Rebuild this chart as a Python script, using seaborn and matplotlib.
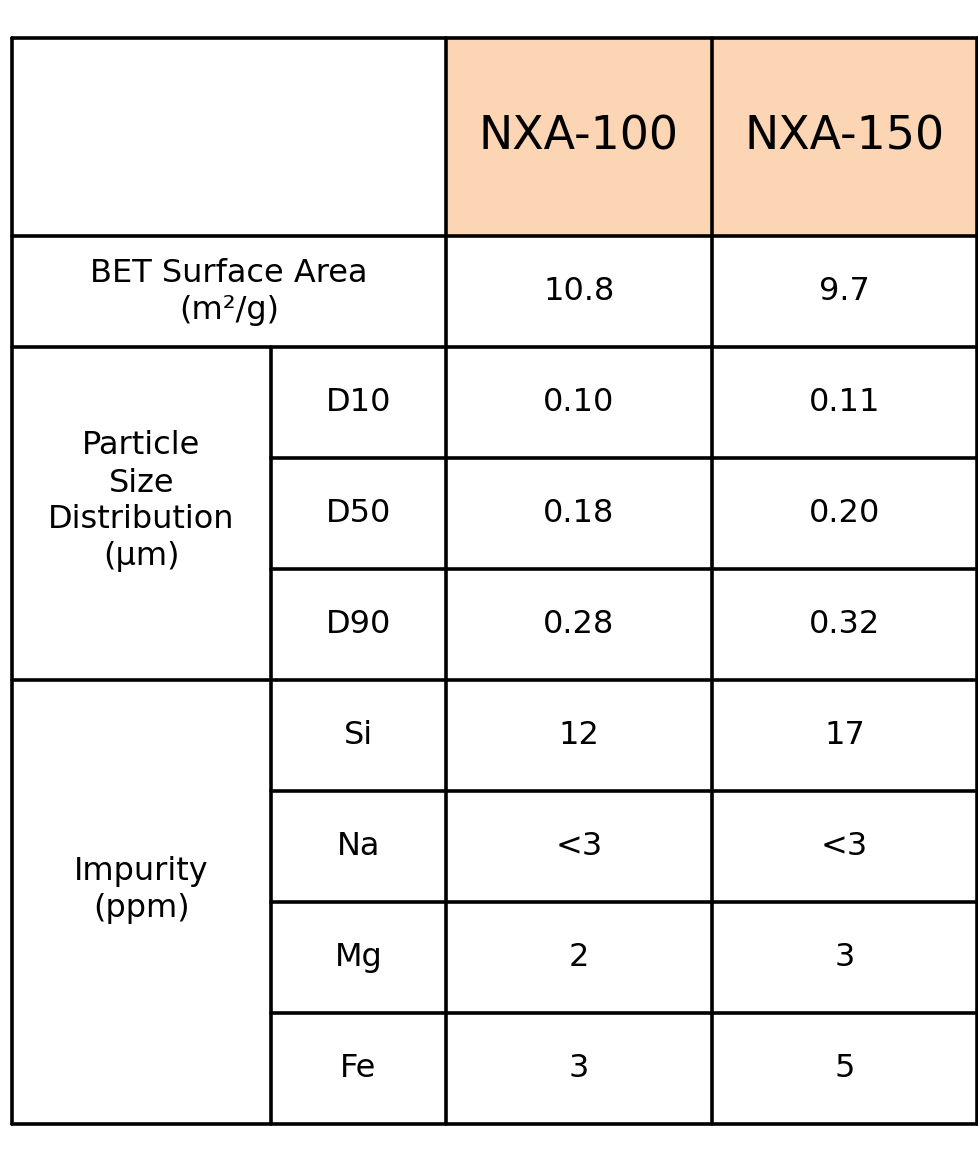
import matplotlib.pyplot as plt
import seaborn as sns

sns.set_theme(style="white")
plt.rcParams['font.family'] = ['DejaVu Sans']
plt.rcParams['text.color'] = 'black'

# ─── DATA ────────────────────────────────────────────────────────────────
PRODUCTS = ["NXA-100", "NXA-150"]
GROUPS = ["BET Surface Area\n(m²/g)", "Particle\nSize\nDistribution\n(µm)", "Impurity\n(ppm)"]
SUB_ROWS = [[""], ["D10", "D50", "D90"], ["Si", "Na", "Mg", "Fe"]]
VAL_100 = ["10.8", "0.10", "0.18", "0.28", "12", "<3", "2", "3"]
VAL_150 = ["9.7", "0.11", "0.20", "0.32", "17", "<3", "3", "5"]

# ─── LAYOUT (pixels) ─────────────────────────────────────────────────────
W, H = 979, 1157
XS = [12, 271, 446, 712, 977]
Y_TOP, Y_HEAD = 38, 236
ROW_H = 111
HEAD_COLOR = "#FCD5B5"
LW = 2.6

fig = plt.figure(figsize=(W / 100, H / 100), dpi=100)
ax = fig.add_axes([0, 0, 1, 1])
ax.set_xlim(0, W)
ax.set_ylim(H, 0)
ax.axis("off")

# header
for i, name in enumerate(PRODUCTS):
    x0, x1 = XS[2 + i], XS[3 + i]
    ax.add_patch(plt.Rectangle((x0, Y_TOP), x1 - x0, Y_HEAD - Y_TOP, color=HEAD_COLOR, zorder=0))
    ax.text((x0 + x1) / 2, (Y_TOP + Y_HEAD) / 2, name, ha="center", va="center", fontsize=33)

# body rows
y = Y_HEAD
k = 0
for g, subs in zip(GROUPS, SUB_ROWS):
    y0 = y
    for s in subs:
        yc = y + ROW_H / 2
        if s:
            ax.text((XS[1] + XS[2]) / 2, yc, s, ha="center", va="center", fontsize=23)
        ax.text((XS[2] + XS[3]) / 2, yc, VAL_100[k], ha="center", va="center", fontsize=23)
        ax.text((XS[3] + XS[4]) / 2, yc, VAL_150[k], ha="center", va="center", fontsize=23)
        y += ROW_H
        k += 1
        if s and s != subs[-1]:
            ax.plot([XS[1], XS[4]], [y, y], color="black", lw=LW)
    if subs[0]:
        ax.plot([XS[1], XS[1]], [y0, y], color="black", lw=LW)
        gx = (XS[0] + XS[1]) / 2
    else:
        gx = (XS[0] + XS[2]) / 2
    ax.text(gx, (y0 + y) / 2 - 12 * (len(subs) > 1), g, ha="center", va="center",
            fontsize=23, linespacing=1.25)
    ax.plot([XS[0], XS[4]], [y, y], color="black", lw=LW)

# outer frame and main lines
ax.plot([XS[0], XS[4]], [Y_TOP, Y_TOP], color="black", lw=LW)
ax.plot([XS[0], XS[4]], [Y_HEAD, Y_HEAD], color="black", lw=LW)
for x in [XS[0], XS[2], XS[3], XS[4]]:
    ax.plot([x, x], [Y_TOP, y], color="black", lw=LW)

fig.savefig("out.png", dpi=100)
